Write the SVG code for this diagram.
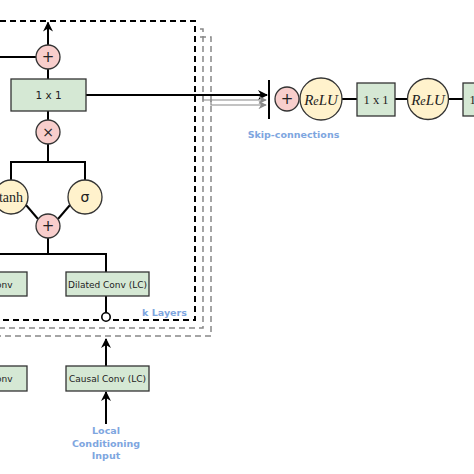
<svg xmlns="http://www.w3.org/2000/svg" width="474" height="474" viewBox="0 0 474 474">
<style>
.box{fill:#d5e8d4;stroke:#333;stroke-width:1.3}
.pink{fill:#f8cecc;stroke:#333;stroke-width:1.3}
.yel{fill:#fff2cc;stroke:#333;stroke-width:1.3}
.ln{fill:none;stroke:#000;stroke-width:2}
.gl{fill:none;stroke:#888;stroke-width:1.2}
.lbl{font-family:"DejaVu Sans",Verdana,sans-serif;font-size:9px;fill:#222;text-anchor:middle}
.lbl-end{font-family:"DejaVu Sans",Verdana,sans-serif;font-size:9px;fill:#222;text-anchor:end}
.big{font-family:"DejaVu Sans",Verdana,sans-serif;font-size:10.5px;fill:#222;text-anchor:middle}
.blue{font-family:"DejaVu Sans",Verdana,sans-serif;font-size:9.5px;font-weight:bold;fill:#7ea6e0;text-anchor:middle}
.ser{font-family:"Liberation Serif","Times New Roman",serif;fill:#222;text-anchor:middle}
.sym{font-family:"DejaVu Sans",sans-serif;fill:#222;text-anchor:middle}
</style>
<defs>
<marker id="ah" viewBox="0 0 10 10" refX="9" refY="5" markerWidth="5" markerHeight="5" orient="auto" markerUnits="strokeWidth">
<path d="M0,0 L10,5 L0,10 L3,5 z" fill="#000"/>
</marker>
<marker id="ahg" viewBox="0 0 10 10" refX="9" refY="5" markerWidth="7" markerHeight="7" orient="auto" markerUnits="strokeWidth">
<path d="M0,0 L10,5 L0,10 L3,5 z" fill="#888"/>
</marker>
</defs>
<rect width="474" height="474" fill="#fff"/>
<g id="layer-stack">
<rect x="-40" y="37" width="251" height="299" fill="none" stroke="#888" stroke-width="1.5" stroke-dasharray="6 4"/>
<rect x="-40" y="29" width="243" height="299" fill="none" stroke="#888" stroke-width="1.5" stroke-dasharray="6 4"/>
<rect x="-40" y="21" width="235" height="299" fill="#fff" stroke="#000" stroke-width="2" stroke-dasharray="6 4"/>
</g>
<g id="connectors">
<line class="ln" x1="-5" y1="57" x2="36" y2="57"/>
<line class="ln" x1="48" y1="45" x2="48" y2="22.5" marker-end="url(#ah)"/>
<line class="ln" x1="48" y1="69" x2="48" y2="79"/>
<line class="ln" x1="48" y1="111" x2="48" y2="120"/>
<polyline class="ln" points="48,144 48,162"/>
<polyline class="ln" points="11,180 11,162 85,162 85,180"/>
<line class="ln" x1="26" y1="205" x2="38" y2="219"/>
<line class="ln" x1="70" y1="205" x2="58" y2="219"/>
<polyline class="ln" points="48,238 48,254"/>
<polyline class="ln" points="-5,254 106,254 106,272"/>
<line class="ln" x1="106" y1="296" x2="106" y2="313"/>
<line class="ln" x1="106" y1="366" x2="106" y2="339" marker-end="url(#ah)"/>
<line class="ln" x1="106" y1="424" x2="106" y2="392" marker-end="url(#ah)"/>
<line class="ln" x1="86" y1="95" x2="267" y2="95" marker-end="url(#ah)"/>
<polyline class="gl" points="203,96 203,100 266,100" marker-end="url(#ahg)"/>
<polyline class="gl" points="211,101 211,105 266,105" marker-end="url(#ahg)"/>
<line class="ln" x1="269" y1="80" x2="269" y2="119"/>
<line class="ln" x1="342" y1="99" x2="357" y2="99"/>
<line class="ln" x1="395" y1="99" x2="408" y2="99"/>
<line class="ln" x1="448" y1="99" x2="463" y2="99"/>
</g>
<g id="add-top"><circle class="pink" cx="48" cy="57" r="12"/><text class="sym" x="48" y="62" font-size="15">+</text></g>
<g id="conv1x1-left"><rect class="box" x="11" y="79" width="75" height="32"/><text class="big" x="48.5" y="99">1 x 1</text></g>
<g id="mul"><circle class="pink" cx="48" cy="132" r="12"/><text class="sym" x="48" y="137" font-size="14">×</text></g>
<g id="tanh"><circle class="yel" cx="11" cy="197" r="17"/><text class="ser" x="11" y="201.5" font-size="14">tanh</text></g>
<g id="sigma"><circle class="yel" cx="85" cy="197" r="17"/><text class="sym" x="85" y="201.5" font-size="14">σ</text></g>
<g id="add-mid"><circle class="pink" cx="48" cy="226" r="12"/><text class="sym" x="48" y="231" font-size="15">+</text></g>
<g id="dilated-left"><rect class="box" x="-60" y="272" width="87" height="24"/><text class="lbl-end" x="12.5" y="287.5">Conv</text></g>
<g id="dilated-lc"><rect class="box" x="66" y="272" width="83" height="24"/><text class="lbl" x="107.5" y="287.5">Dilated Conv (LC)</text></g>
<g id="lc-port"><circle cx="106" cy="317" r="4.2" fill="#fff" stroke="#000" stroke-width="1.6"/></g>
<g id="k-layers"><text class="blue" x="164.5" y="316">k Layers</text></g>
<g id="causal-left"><rect class="box" x="-60" y="366" width="87" height="25"/><text class="lbl-end" x="12.5" y="382">Conv</text></g>
<g id="causal-lc"><rect class="box" x="66" y="366" width="83" height="25"/><text class="lbl" x="107.5" y="382">Causal Conv (LC)</text></g>
<g id="lc-input"><text class="blue" x="106" y="433.5">Local</text><text class="blue" x="106" y="446.5">Conditioning</text><text class="blue" x="106" y="459">Input</text></g>
<g id="skip-label"><text class="blue" x="293.5" y="137.5">Skip-connections</text></g>
<g id="add-skip"><circle class="pink" cx="287" cy="99" r="12"/><text class="sym" x="287" y="104" font-size="15">+</text></g>
<g id="relu1"><circle class="yel" cx="321" cy="99" r="21"/><text class="ser" x="321" y="104.5" font-size="15" font-style="italic">R<tspan font-size="12">e</tspan>LU</text></g>
<g id="conv1x1-r1"><rect class="box" x="357" y="83" width="38" height="33"/><text class="ser" x="376" y="103.5" font-size="12.5">1 x 1</text></g>
<g id="relu2"><circle class="yel" cx="428" cy="99" r="20.5"/><text class="ser" x="428" y="104.5" font-size="15" font-style="italic">R<tspan font-size="12">e</tspan>LU</text></g>
<g id="conv1x1-r2"><rect class="box" x="463" y="83" width="38" height="33"/><text class="ser" x="482" y="103.5" font-size="12.5">1 x 1</text></g>
</svg>
